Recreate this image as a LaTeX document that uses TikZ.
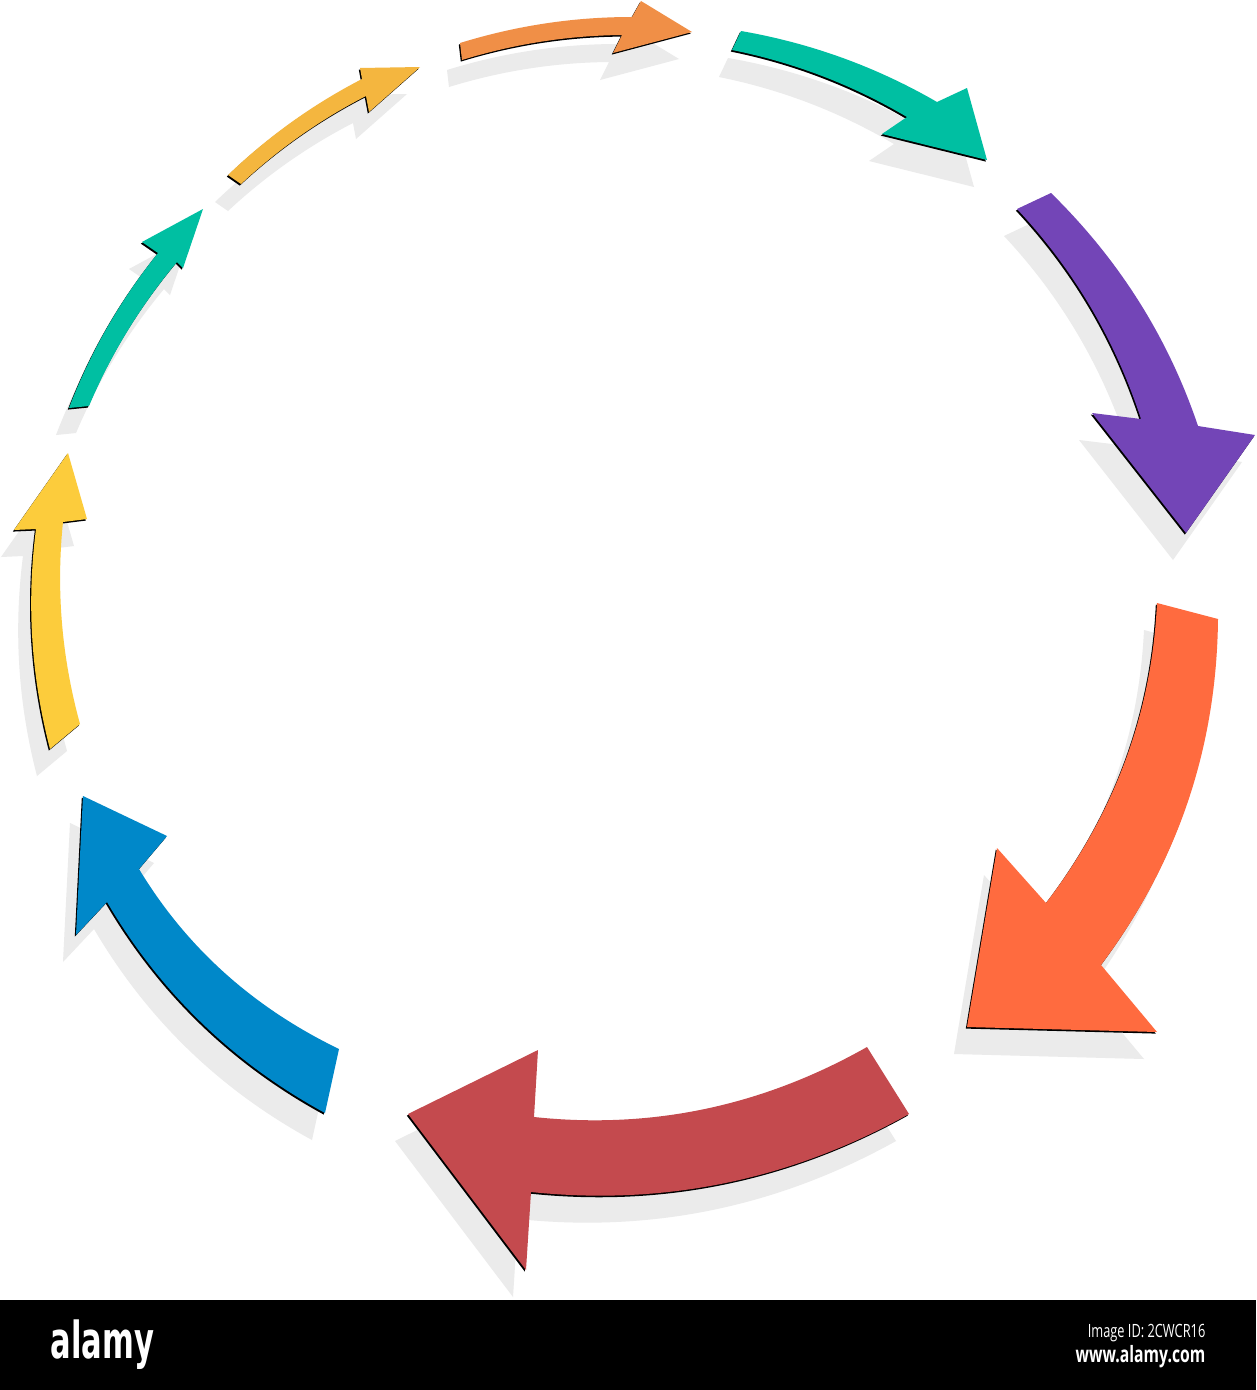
\documentclass[tikz,border=0pt]{standalone}
\usepackage{fontspec}
\setmainfont{Open Sans}
\newfontfamily\logofont{DejaVu Sans}
\usetikzlibrary{calc}

\definecolor{ayellow}{HTML}{FCCC3C}
\definecolor{ateal}{HTML}{00BFA2}
\definecolor{agold}{HTML}{F4B63F}
\definecolor{aorange}{HTML}{F08F47}
\definecolor{apurple}{HTML}{7345B7}
\definecolor{acoral}{HTML}{FF6B3F}
\definecolor{ared}{HTML}{C44A4E}
\definecolor{ablue}{HTML}{0088C9}
\definecolor{shadowgray}{HTML}{EBEBEB}

\tikzset{
  shade layer/.style={fill=shadowgray, shift={(-13,27)}},
  edge layer/.style={fill=black, shift={(-1.2,1.6)}},
  bow/.style={to path={.. controls ($(\tikztostart)!2/3!(#1)$) and ($(\tikztotarget)!2/3!(#1)$) .. (\tikztotarget)}},
}

% shadow, thin dark edge, then the coloured arrow
\newcommand\ringarrow[2]{
  \fill[shade layer] #2;
  \fill[edge layer] #2;
  \fill[#1] #2;
}

\begin{document}
\begin{tikzpicture}[x=0.1mm, y=-0.1mm]

\fill[white] (0,0) rectangle (1256,1390);
\useasboundingbox (0,0) rectangle (1256,1390);

\ringarrow{ayellow}{(50,749) to[bow={21.7,640.4}] (36,529) -- (14,530) -- (68,453) -- (87,519) -- (63,522) to[bow={52.5,623.8}] (80,724) -- cycle}
\ringarrow{ateal}{(69,408) to[bow={101.2,323.9}] (158,253) -- (142,242) -- (203,209) -- (183,268) -- (177,262) to[bow={122,327.9}] (89,406) -- cycle}
\ringarrow{agold}{(228,175) to[bow={288.3,117.1}] (362,79) -- (360,68) -- (420,67) -- (369,112) -- (366,96) to[bow={297.6,131.2}] (241,184) -- cycle}
\ringarrow{aorange}{(460,43) to[bow={544.4,16.9}] (632,17) -- (641,1) -- (692,32) -- (613,53) -- (622,35) to[bow={540.5,35.8}] (462,60) -- cycle}
\ringarrow{ateal}{(741,31) to[bow={845.8,49.2}] (937,102) -- (967,88) -- (987,160) -- (882,134) -- (907,117) to[bow={825.3,68.8}] (732,50) -- cycle}
\ringarrow{apurple}{(1051,193) to[bow={1153.2,293.2}] (1198,426) -- (1255,435) -- (1186,533) -- (1092,413) -- (1141,419) to[bow={1102,299.8}] (1017,209) -- cycle}
\ringarrow{acoral}{(1218,619) to[bow={1216,812}] (1101,965) -- (1157,1032) -- (967,1027) -- (997,848) -- (1046,903) to[bow={1149.2,768}] (1157,603) -- cycle}
\ringarrow{ared}{(909,1114) to[bow={731.4,1212.9}] (531,1192) -- (526,1270) -- (408,1114) -- (538,1050) -- (534,1117) to[bow={710,1135.8}] (867,1047) -- cycle}
\ringarrow{ablue}{(339,1049) to[bow={210,986.6}] (139,869) -- (167,836) -- (83,796) -- (76,935) -- (107,902) to[bow={186.6,1037.5}] (325,1113) -- cycle}

% footer bar
\fill[black] (0,1300) rectangle (1256,1390);
\node[anchor=west, text=white, inner sep=0] (logo) at (50,1345)
  {\logofont\bfseries\fontsize{14.5}{14}\selectfont\scalebox{0.6}[1]{alamy}};
\node[anchor=east, text=white, inner sep=0] (imgid) at (1206,1333)
  {\fontsize{5.2}{6}\selectfont\scalebox{0.7}[1]{Image ID: 2CWCR16}};
\node[anchor=east, text=white, inner sep=0] (website) at (1206,1357)
  {\fontsize{6.4}{7}\selectfont\bfseries\scalebox{0.7}[1]{www.alamy.com}};

\end{tikzpicture}
\end{document}
